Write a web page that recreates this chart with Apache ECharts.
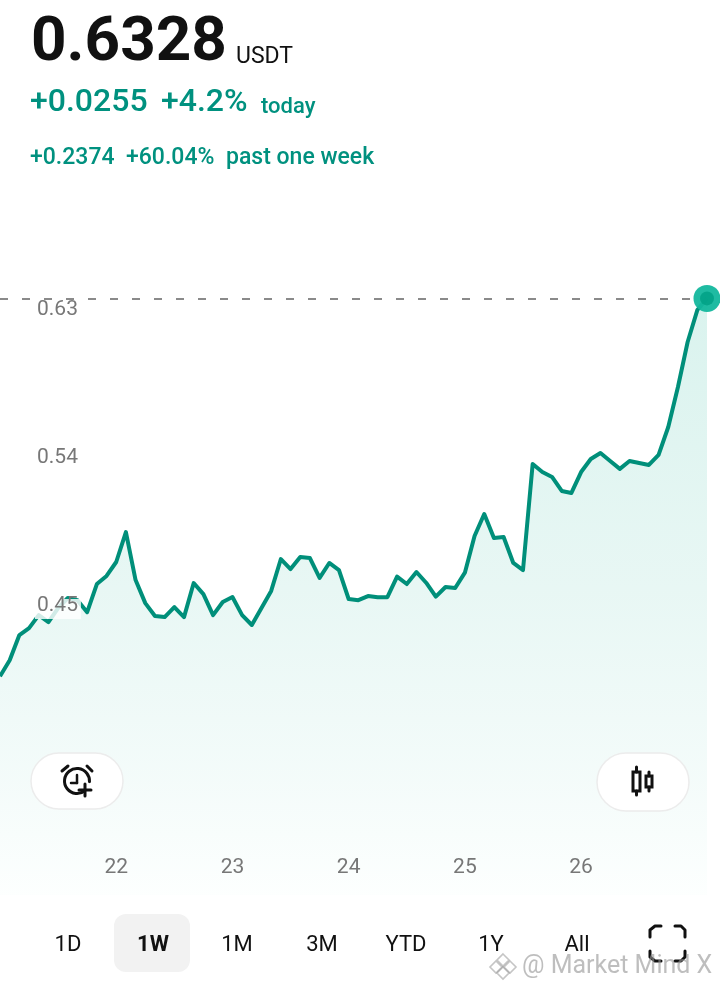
<!DOCTYPE html>
<html><head><meta charset="utf-8">
<style>html,body{margin:0;padding:0;background:#fff}#c{width:720px;height:991px}</style>
<script src="https://cdn.jsdelivr.net/npm/echarts@6/dist/echarts.min.js"></script>
</head><body><div id="c"></div>
<script>
var categories = ['','','','','','','','','','','','','22','','','','','','','','','','','','23','','','','','','','','','','','','24','','','','','','','','','','','','25','','','','','','','','','','','','26','','','','','','','','','','','','',''];
var prices = [0.4030,0.4128,0.4281,0.4323,0.4402,0.4359,0.4445,0.4506,0.4493,0.4420,0.4591,0.4640,0.4725,0.4907,0.4615,0.4475,0.4397,0.4390,0.4451,0.4390,0.4597,0.4530,0.4402,0.4482,0.4512,0.4402,0.4342,0.4445,0.4549,0.4743,0.4682,0.4755,0.4749,0.4628,0.4719,0.4676,0.4500,0.4493,0.4518,0.4511,0.4511,0.4636,0.4591,0.4664,0.4599,0.4514,0.4573,0.4567,0.4660,0.4883,0.5017,0.4871,0.4877,0.4719,0.4676,0.5321,0.5272,0.5242,0.5157,0.5145,0.5272,0.5351,0.5388,0.5339,0.5291,0.5339,0.5327,0.5315,0.5376,0.5546,0.5789,0.6063,0.6257,0.6328];
var yTicks = [0.45,0.54,0.63];
var lastPrice = 0.6328;
var periods = ['1D','1W','1M','3M','YTD','1Y','All'];
var periodX = [68,153,237,322,406,491,577];

var FONT = 'Roboto, "Noto Sans", sans-serif';
var TEAL = '#00917f';
var WM = 'rgba(150,150,150,0.55)';
function txt(x, y, t, size, color, weight, align) {
  return {type:'text', x:x, y:y, z:20, silent:true, style:{text:t, fontFamily:FONT, fontSize:size, fill:color, fontWeight:weight||400, align:align||'left', verticalAlign:'middle'}};
}
function seg(x1,y1,x2,y2,w,c){return {type:'line',z:20,silent:true,shape:{x1:x1,y1:y1,x2:x2,y2:y2},style:{stroke:c||'#111',lineWidth:w||3,lineCap:'round'}};}
function pill(x,y,w,h){return {type:'rect',z:15,silent:true,shape:{x:x,y:y,width:w,height:h,r:h/2},style:{fill:'#fff',stroke:'#ececec',lineWidth:1.5}};}
function poly(pts,w){return {type:'polyline',z:20,silent:true,shape:{points:pts},style:{stroke:'#111',fill:null,lineWidth:w||3,lineCap:'round',lineJoin:'round'}};}
function diamond(cx,cy,r){return {type:'polygon',z:25,silent:true,shape:{points:[[cx,cy-r],[cx+r,cy],[cx,cy+r],[cx-r,cy]]},style:{fill:null,stroke:WM,lineWidth:1.6}};}

var graphics = [
  txt(31,44,'0.6328',62,'#111',700),
  txt(236,57,'USDT',23,'#111',400),
  txt(30,103,'+0.0255',32,TEAL,500),
  txt(161,103,'+4.2%',32,TEAL,500),
  txt(261,107,'today',22,TEAL,500),
  txt(30,158,'+0.2374',23,TEAL,500),
  txt(126,158,'+60.04%',23,TEAL,500),
  txt(226,158,'past one week',23,TEAL,500),
  pill(31,753,92,56),
  pill(597,753,92,58),
  // alarm icon
  {type:'arc',z:20,silent:true,shape:{cx:77,cy:781,r:12.5,startAngle:0.9,endAngle:0.05+Math.PI*2,clockwise:true},style:{stroke:'#111',fill:null,lineWidth:3,lineCap:'round'}},
  seg(77,775,77,783,2.5), seg(77,783,71,783,2.5),
  seg(62,771,68,766,3), seg(87,766,92,771,3),
  seg(79,790,91,790,3), seg(85,784,85,796,3),
  // candle icon
  {type:'rect',z:20,silent:true,shape:{x:633,y:772,width:7,height:19},style:{stroke:'#111',fill:'#fff',lineWidth:3}},
  seg(636.5,767,636.5,772,3), seg(636.5,791,636.5,795,3),
  {type:'rect',z:20,silent:true,shape:{x:646,y:776,width:6,height:11},style:{stroke:'#111',fill:'#fff',lineWidth:3}},
  seg(649,772,649,776,3), seg(649,787,649,791,3),
  // period selector
  {type:'rect',z:15,silent:true,shape:{x:114,y:914,width:76,height:58,r:12},style:{fill:'#f2f2f2'}},
  // fullscreen icon
  poly([[650,937],[650,930],[655,926],[661,926]]),
  poly([[675,926],[681,926],[685,930],[685,937]]),
  poly([[650,951],[650,957],[655,961],[661,961]]),
  poly([[675,961],[681,961],[685,957],[685,951]]),
  // watermark
  diamond(503,960,6), diamond(503,973,6), diamond(496,967,6), diamond(510,967,6),
  txt(522,967,'@ Market Mind X',25,'rgba(150,150,150,0.62)',400)
];
periods.forEach(function(p,i){
  graphics.push(txt(periodX[i],945,p,22,'#111',p==='1W'?700:400,'center'));
});

var chart = echarts.init(document.getElementById('c'), null, {renderer:'canvas'});
chart.setOption({
  animation:false,
  grid:{left:0,right:13,top:155,bottom:96,containLabel:false,outerBoundsMode:'none'},
  xAxis:{type:'category',data:categories,boundaryGap:false,z:5,
    axisLine:{show:false},axisTick:{show:false},splitLine:{show:false},
    axisLabel:{show:true,interval:0,inside:true,margin:17,color:'#777',fontSize:21,fontFamily:FONT,hideOverlap:false}},
  yAxis:{type:'value',min:0.27,max:0.72,interval:0.09,z:5,
    axisLine:{show:false},axisTick:{show:false},splitLine:{show:false},
    axisLabel:{inside:true,margin:35,customValues:yTicks,color:'#777',fontSize:21,fontFamily:FONT,
      verticalAlign:'top',lineHeight:14,padding:[0,3,6,2],backgroundColor:'rgba(255,255,255,0.82)',
      formatter:function(v){return v.toFixed(2);}}},
  series:[
    {type:'line',data:prices,symbol:'none',smooth:false,z:3,
      lineStyle:{color:'#008f7a',width:4,join:'round'},
      areaStyle:{color:{type:'linear',x:0,y:0,x2:0,y2:1,colorStops:[
        {offset:0,color:'#c9ede6'},{offset:0.5,color:'#def3ef'},{offset:0.8,color:'#eef9f7'},{offset:1,color:'#fbfefd'}]}},
      markLine:{silent:true,symbol:'none',label:{show:false},animation:false,
        lineStyle:{color:'#8a8a8a',type:[8,14],width:2},
        data:[[{xAxis:0,yAxis:lastPrice},{xAxis:categories.length-1,yAxis:lastPrice}]]}},
    {type:'scatter',symbol:'circle',symbolSize:27,z:6,silent:true,
      itemStyle:{color:'#13b79d',opacity:0.95},data:[[categories.length-1,lastPrice]]},
    {type:'scatter',symbol:'circle',symbolSize:14,z:7,silent:true,
      itemStyle:{color:'#00a085'},data:[[categories.length-1,lastPrice]]}
  ],
  graphic:{elements:graphics}
});
</script></body></html>
